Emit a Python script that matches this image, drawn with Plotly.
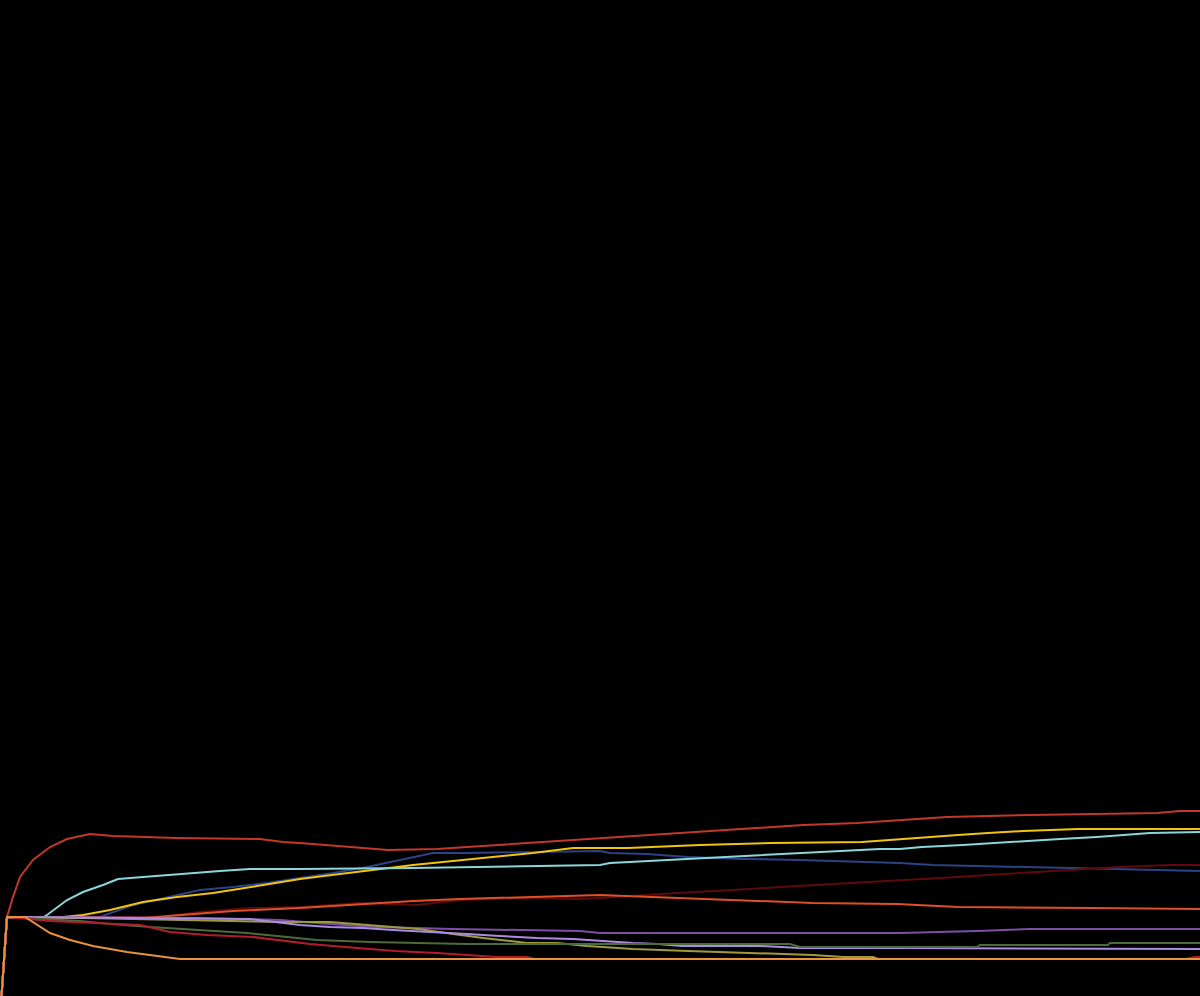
import plotly.graph_objects as go

# --- Series (t = step, v = level; all start together at t=7) ---
t_red = [0, 7, 13, 20, 33, 50, 67, 90, 113, 177, 260, 283, 300, 333, 363, 388, 437, 467, 497, 527,
         557, 593, 622, 652, 682, 707, 737, 767, 803, 857, 893, 917, 947, 1030, 1157, 1180, 1200]
v_red = [-22, 79, 99, 119, 136, 149, 157, 162, 160, 158, 157, 154, 153, 150, 148, 146, 147, 149, 151, 153,
         155, 157, 159, 161, 163, 165, 167, 169, 171, 173, 175, 177, 179, 181, 183, 185, 185]

t_cyan = [0, 7, 42, 47, 67, 83, 103, 118, 143, 167, 197, 220, 250, 300, 412, 573, 600, 610, 647, 688,
          723, 767, 808, 845, 880, 900, 922, 963, 993, 1030, 1060, 1097, 1120, 1150, 1200]
v_cyan = [-22, 79, 78, 81, 96, 104, 111, 117, 119, 121, 123, 125, 127, 127, 128, 130, 131, 133, 135, 137,
          139, 141, 143, 145, 147, 147, 149, 151, 153, 155, 157, 159, 161, 163, 164]

t_blue = [0, 7, 87, 100, 133, 167, 200, 233, 267, 300, 333, 367, 400, 433, 467, 533, 600, 610, 647, 688,
          743, 800, 887, 900, 933, 1013, 1097, 1193, 1200]
v_blue = [-22, 79, 78, 79, 91, 99, 106, 109, 113, 118, 123, 129, 136, 143, 143, 144, 145, 143, 142, 139,
          137, 136, 134, 133, 131, 129, 127, 125, 125]

t_yellow = [0, 7, 63, 83, 110, 143, 177, 213, 257, 300, 340, 367, 397, 413, 433, 467, 500, 533, 573, 600,
            628, 700, 772, 862, 900, 928, 958, 988, 1023, 1078, 1200]
v_yellow = [-22, 79, 79, 81, 86, 94, 99, 103, 110, 117, 122, 125, 129, 131, 133, 136, 139, 143, 148, 148,
            148, 151, 153, 154, 157, 159, 161, 163, 165, 167, 167]

t_maroon = [0, 7, 160, 200, 250, 300, 360, 417, 460, 520, 580, 600, 677, 720, 750, 780, 817, 853, 883, 917,
            958, 988, 1020, 1055, 1087, 1120, 1170, 1200]
v_maroon = [-22, 79, 79, 84, 88, 89, 93, 91, 96, 98, 97, 98, 103, 105, 107, 109, 111, 113, 115, 117,
            119, 121, 123, 125, 127, 129, 131, 131]

t_vermil = [0, 7, 143, 183, 233, 300, 317, 340, 382, 413, 460, 520, 580, 600, 652, 700, 748, 813, 897, 958,
            1090, 1200]
v_vermil = [-22, 79, 78, 81, 85, 88, 89, 91, 93, 95, 97, 99, 101, 101, 99, 97, 95, 93, 92, 89,
            88, 87]

t_purple = [0, 7, 200, 280, 330, 377, 453, 513, 580, 600, 900, 977, 1030, 1200]
v_purple = [-22, 79, 78, 76, 72, 69, 67, 66, 65, 63, 63, 65, 67, 67]

t_lavender = [0, 7, 250, 300, 330, 363, 393, 437, 467, 500, 537, 573, 600, 633, 658, 682, 760, 800, 900, 1200]
v_lavender = [-22, 79, 77, 71, 69, 68, 66, 64, 62, 60, 58, 57, 55, 53, 52, 50, 50, 48, 48, 47]

t_olive = [0, 7, 83, 190, 280, 330, 357, 388, 418, 453, 483, 527, 557, 587, 600, 633, 688, 743, 813, 843,
           873, 878, 1200]
v_olive = [-22, 79, 78, 76, 74, 74, 72, 69, 67, 62, 58, 53, 53, 50, 49, 47, 45, 43, 41, 39,
           39, 37, 37]

t_green = [0, 7, 80, 110, 150, 183, 247, 277, 300, 317, 370, 467, 790, 800, 977, 980, 1108, 1110, 1200]
v_green = [-22, 79, 75, 72, 69, 67, 63, 60, 58, 56, 54, 52, 52, 49, 49, 51, 51, 53, 53]

t_crimson = [0, 7, 50, 90, 140, 170, 207, 253, 300, 310, 345, 370, 395, 437, 467, 497, 527, 535, 1185, 1195, 1200]
v_crimson = [-22, 79, 75, 73, 71, 64, 61, 59, 53, 52, 49, 47, 45, 43, 41, 39, 39, 37, 37, 39, 39]

t_orange = [0, 7, 25, 37, 50, 70, 93, 127, 157, 180, 1200]
v_orange = [-22, 79, 79, 71, 63, 56, 50, 44, 40, 37, 37]

# drawing order matters: orange last, on top
series = [
    ('Red', t_red, v_red, '#c0392b'),
    ('Blue', t_blue, v_blue, '#2b4385'),
    ('Yellow', t_yellow, v_yellow, '#f1c40f'),
    ('Cyan', t_cyan, v_cyan, '#8ad6d8'),
    ('Maroon', t_maroon, v_maroon, '#5e0a0a'),
    ('Vermilion', t_vermil, v_vermil, '#dd5126'),
    ('Purple', t_purple, v_purple, '#7d4ea3'),
    ('Olive', t_olive, v_olive, '#9c9c3c'),
    ('Lavender', t_lavender, v_lavender, '#a98ce2'),
    ('Green', t_green, v_green, '#4c6b3a'),
    ('Crimson', t_crimson, v_crimson, '#b31c2e'),
    ('Orange', t_orange, v_orange, '#e8923c'),
]

fig = go.Figure()
for name, t, v, c in series:
    fig.add_trace(go.Scatter(
        x=t, y=v,
        mode='lines',
        line=dict(color=c, width=2),
        name=name,
    ))

fig.update_layout(
    width=1200, height=996,
    margin=dict(l=0, r=0, t=0, b=0),
    paper_bgcolor='black',
    plot_bgcolor='black',
    showlegend=False,
)
fig.update_xaxes(range=[0, 1200], visible=False)
fig.update_yaxes(range=[0, 996], visible=False)

# page has no margin, black like the chart; no modebar
fig.write_html("out.html",
               config={'displayModeBar': False},
               post_script="document.body.style.margin='0';"
                           "document.body.style.background='black';"
                           "document.body.style.overflow='hidden';")
